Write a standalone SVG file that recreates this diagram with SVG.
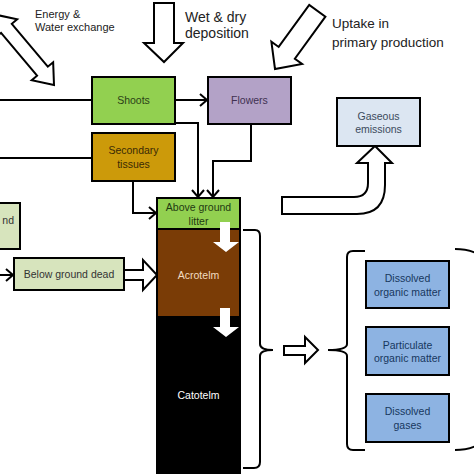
<svg xmlns="http://www.w3.org/2000/svg" width="474" height="474" viewBox="0 0 474 474">
<defs>
<marker id="ah" markerUnits="userSpaceOnUse" markerWidth="12" markerHeight="14" refX="9" refY="7" orient="auto">
<path d="M2,1 L9,7 L2,13" fill="none" stroke="#000" stroke-width="2"/>
</marker>
</defs>
<style>
.box{stroke:#000;stroke-width:2}
.t{font-family:"Liberation Sans",Arial,sans-serif;font-size:10.5px;text-anchor:middle}
.big{font-family:"Liberation Sans",Arial,sans-serif;font-size:14px;fill:#222}
.con{fill:none;stroke:#000;stroke-width:2}
.blk{fill:#fff;stroke:#000;stroke-width:2;stroke-linejoin:miter}
.wa{fill:#fff;stroke:none}
</style>
<rect width="474" height="474" fill="#fff"/>

<g id="energy">
<polygon class="blk" transform="translate(54,85) rotate(50)" points="0,0 -18,14 -18,7 -74,7 -74,14 -92,0 -74,-14 -74,-7 -18,-7 -18,-14"/>
<text class="big" style="font-size:11px" x="35" y="18">Energy &amp;</text>
<text class="big" style="font-size:11px" x="35" y="31">Water exchange</text>
</g>
<g id="deposition">
<polygon class="blk" points="154,3 174,3 174,43 183,43 164,62 144,43 154,43"/>
<text class="big" x="185" y="22">Wet &amp; dry</text>
<text class="big" x="185" y="38">deposition</text>
</g>
<g id="uptake">
<polygon class="blk" transform="translate(275,69) rotate(126)" points="0,0 -20,19 -20,10 -72,10 -72,-10 -20,-10 -20,-19"/>
<text class="big" style="font-size:13.5px" x="332" y="28">Uptake in</text>
<text class="big" style="font-size:13.5px" x="332" y="47">primary production</text>
</g>

<g id="connectors">
<line class="con" x1="0" y1="100" x2="92" y2="100"/>
<line class="con" x1="0" y1="158" x2="92" y2="158"/>
<line class="con" x1="175" y1="100" x2="207" y2="100" marker-end="url(#ah)"/>
<path class="con" d="M175,123 H198 V197" marker-end="url(#ah)"/>
<path class="con" d="M251,124 V161 H213 V197" marker-end="url(#ah)"/>
<path class="con" d="M133,181 V213 H156" marker-end="url(#ah)"/>
<line class="con" x1="0" y1="275" x2="13" y2="275" marker-end="url(#ah)"/>
<polygon class="blk" points="124,270 143,270 143,260 157,275 143,290 143,280 124,280"/>
<path class="blk" d="M282,197 H354 Q368,197 368,183 V163 H357 L375,146 L392,163 H385 V185 Q385,214 357,214 H282 Z"/>
<polygon class="blk" points="284,346 305,346 305,337 318,350 305,363 305,355 284,355"/>
<path class="con" d="M243,230 H255 Q260,230 260,236 V344 Q260,350 273,350 Q260,350 260,356 V462 Q260,468 254,468 H243"/>
<path class="con" d="M365,251 H353 Q347,251 347,257 V344 Q347,350 328,350 Q347,350 347,356 V444 Q347,450 353,450 H365"/>
<path class="con" d="M455,249 Q468,249 478,254"/>
<path class="con" d="M455,450 Q468,450 478,445"/>
</g>

<g id="shoots">
<rect class="box" x="92" y="77" width="83" height="47" fill="#92d050"/>
<text class="t" x="133.5" y="104" fill="#2b3f18">Shoots</text>
</g>
<g id="flowers">
<rect class="box" x="208" y="77" width="83" height="47" fill="#b3a2c7"/>
<text class="t" x="249.5" y="104" fill="#3f3151">Flowers</text>
</g>
<g id="secondary">
<rect class="box" x="92" y="133" width="83" height="48" fill="#cc9a0a"/>
<text class="t" x="133.5" y="154" fill="#3a2a05">Secondary</text>
<text class="t" x="133.5" y="168" fill="#3a2a05">tissues</text>
</g>
<g id="gaseous">
<rect class="box" x="337" y="98" width="83" height="48" fill="#dce6f2"/>
<text class="t" x="378.5" y="120" fill="#3b4a5c">Gaseous</text>
<text class="t" x="378.5" y="133" fill="#3b4a5c">emissions</text>
</g>
<g id="aboveground">
<rect class="box" x="-10" y="203" width="30" height="46" fill="#d7e4bd"/>
<text class="t" x="14" y="224" style="text-anchor:end" fill="#333">nd</text>
</g>
<g id="belowground">
<rect class="box" x="14" y="258" width="110" height="32" fill="#d7e4bd"/>
<text class="t" x="69" y="278" fill="#333">Below ground dead</text>
</g>
<g id="column">
<rect class="box" x="157" y="317" width="83" height="157" fill="#000"/>
<rect class="box" x="157" y="229" width="83" height="88" fill="#7a3c06"/>
<rect class="box" x="157" y="198" width="83" height="31" fill="#92d050"/>
<text class="t" x="198.5" y="211" fill="#1f3a12">Above ground</text>
<text class="t" x="198.5" y="225" fill="#1f3a12">litter</text>
<text class="t" x="198.5" y="279" fill="#f2dcc0">Acrotelm</text>
<text class="t" x="198.5" y="399" fill="#fff">Catotelm</text>
<polygon class="wa" points="220,222 230,222 230,242 239,242 226,252 213,242 220,242"/>
<polygon class="wa" points="220,308 230,308 230,327 239,327 226,337 213,327 220,327"/>
</g>
<g id="dom">
<rect class="box" x="366" y="261" width="83" height="47" fill="#8db3e2"/>
<text class="t" x="407.5" y="282" fill="#17375e">Dissolved</text>
<text class="t" x="407.5" y="296" fill="#17375e">organic matter</text>
</g>
<g id="pom">
<rect class="box" x="366" y="327" width="83" height="48" fill="#8db3e2"/>
<text class="t" x="407.5" y="349" fill="#17375e">Particulate</text>
<text class="t" x="407.5" y="362" fill="#17375e">organic matter</text>
</g>
<g id="gases">
<rect class="box" x="366" y="394" width="83" height="48" fill="#8db3e2"/>
<text class="t" x="407.5" y="415" fill="#17375e">Dissolved</text>
<text class="t" x="407.5" y="429" fill="#17375e">gases</text>
</g>
</svg>
